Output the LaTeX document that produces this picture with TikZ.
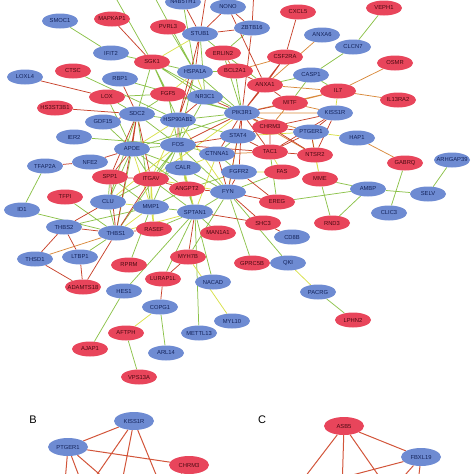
\documentclass[tikz,border=0pt]{standalone}
\usepackage{fontspec}
\setmainfont{Liberation Sans}
\usepackage{xcolor}
\usetikzlibrary{shapes.geometric,backgrounds}
\definecolor{GeneRed}{HTML}{E8455B}
\definecolor{GeneBlue}{HTML}{6E8BD2}
\definecolor{RedText}{HTML}{4A0A12}
\definecolor{BlueText}{HTML}{14235A}
\definecolor{LinkRed}{HTML}{C8432C}
\definecolor{LinkOrange}{HTML}{D98A3C}
\definecolor{LinkGreen}{HTML}{8CC24A}
\definecolor{LinkYellow}{HTML}{D8E04A}
\definecolor{LinkPanel}{HTML}{D2553A}

\begin{document}
\begin{tikzpicture}[x=1pt, y=-1pt,
  gene/.style={ellipse, minimum width=36pt, minimum height=15pt, inner xsep=-3pt, inner ysep=0pt, font=\fontsize{5.8}{6.5}\selectfont},
  upgene/.style={gene, fill=GeneRed, text=RedText},
  downgene/.style={gene, fill=GeneBlue, text=BlueText},
  biggene/.style={minimum width=40pt, minimum height=18pt},
  link/.style={line width=0.75pt},
  lred/.style={link, draw=LinkRed},
  lorange/.style={link, draw=LinkOrange},
  lgreen/.style={link, draw=LinkGreen},
  lyellow/.style={link, draw=LinkYellow},
  lpanel/.style={line width=1pt, draw=LinkPanel},
  panel/.style={font=\fontsize{11}{12}\selectfont}
]
\useasboundingbox (0,0) rectangle (474,474);
\clip (0,0) rectangle (474,474);

\node[downgene] (n4b5th1) at (183,2) {N4B5TH1};
\node[downgene] (nono) at (228,7) {NONO};
\node[upgene] (cxcl5) at (298,12) {CXCL5};
\node[upgene] (veph1) at (384,8) {VEPH1};
\node[upgene] (mapkap1) at (112,19) {MAPKAP1};
\node[downgene] (smoc1) at (60,21) {SMOC1};
\node[upgene] (pvrl3) at (168,27) {PVRL3};
\node[downgene] (stub1) at (200,34) {STUB1};
\node[downgene] (zbtb16) at (252,28) {ZBTB16};
\node[downgene] (anxa6) at (322,35) {ANXA6};
\node[downgene] (clcn7) at (353,47) {CLCN7};
\node[downgene] (ifit2) at (111,53) {IFIT2};
\node[upgene] (erlin2) at (223,53) {ERLIN2};
\node[upgene] (csf2ra) at (285,57) {CSF2RA};
\node[upgene] (sgk1) at (152,62) {SGK1};
\node[upgene] (osmr) at (395,63) {OSMR};
\node[upgene] (ctsc) at (73,71) {CTSC};
\node[downgene] (hspa1a) at (195,72) {HSPA1A};
\node[upgene] (bcl2a1) at (235,71) {BCL2A1};
\node[downgene] (casp1) at (311,75) {CASP1};
\node[downgene] (loxl4) at (25,77) {LOXL4};
\node[downgene] (rbp1) at (120,79) {RBP1};
\node[upgene] (anxa1) at (265,85) {ANXA1};
\node[upgene] (il7) at (338,91) {IL7};
\node[upgene] (fgf5) at (168,94) {FGF5};
\node[downgene] (nr3c1) at (205,97) {NR3C1};
\node[upgene] (lox) at (107,97) {LOX};
\node[upgene] (il13ra2) at (398,100) {IL13RA2};
\node[upgene] (mitf) at (290,103) {MITF};
\node[upgene] (hs3st3b1) at (55,108) {HS3ST3B1};
\node[downgene] (sdc2) at (137,114) {SDC2};
\node[downgene] (pik3r1) at (242,113) {PIK3R1};
\node[downgene] (kiss1r) at (335,113) {KISS1R};
\node[downgene] (hsp90ab1) at (178,120) {HSP90AB1};
\node[downgene] (gdf15) at (103,122) {GDF15};
\node[upgene] (chrm3) at (270,127) {CHRM3};
\node[downgene] (ptger1) at (311,132) {PTGER1};
\node[downgene] (stat4) at (238,136) {STAT4};
\node[downgene] (ier2) at (74,137) {IER2};
\node[downgene] (hap1) at (357,138) {HAP1};
\node[downgene] (fos) at (178,145) {FOS};
\node[downgene] (apoe) at (132,149) {APOE};
\node[upgene] (tac1) at (270,152) {TAC1};
\node[downgene] (ctnna1) at (217,154) {CTNNA1};
\node[upgene] (ntsr2) at (315,155) {NTSR2};
\node[downgene] (arhgap39) at (452,160) {ARHGAP39};
\node[downgene] (nfe2) at (90,162) {NFE2};
\node[upgene] (gabrq) at (405,163) {GABRQ};
\node[downgene] (tfap2a) at (45,166) {TFAP2A};
\node[downgene] (calr) at (183,168) {CALR};
\node[downgene] (fgfr2) at (239,172) {FGFR2};
\node[upgene] (fas) at (282,172) {FAS};
\node[upgene] (spp1) at (110,177) {SPP1};
\node[upgene] (itgav) at (151,179) {ITGAV};
\node[upgene] (mme) at (320,179) {MME};
\node[upgene] (angpt2) at (187,189) {ANGPT2};
\node[downgene] (ambp) at (368,189) {AMBP};
\node[downgene] (fyn) at (228,192) {FYN};
\node[downgene] (selv) at (428,194) {SELV};
\node[upgene] (tfpi) at (65,197) {TFPI};
\node[downgene] (clu) at (108,202) {CLU};
\node[upgene] (ereg) at (277,202) {EREG};
\node[downgene] (mmp1) at (151,207) {MMP1};
\node[downgene] (id1) at (22,210) {ID1};
\node[downgene] (sptan1) at (195,212) {SPTAN1};
\node[downgene] (clic3) at (389,213) {CLIC3};
\node[upgene] (shc3) at (263,223) {SHC3};
\node[upgene] (rnd3) at (332,223) {RND3};
\node[downgene] (thbs2) at (64,227) {THBS2};
\node[upgene] (rasef) at (154,229) {RASEF};
\node[downgene] (thbs1) at (116,233) {THBS1};
\node[upgene] (man1a1) at (218,233) {MAN1A1};
\node[downgene] (cd8b) at (292,237) {CD8B};
\node[downgene] (ltbp1) at (80,257) {LTBP1};
\node[upgene] (myh7b) at (188,257) {MYH7B};
\node[downgene] (thsd1) at (35,259) {THSD1};
\node[upgene] (gprc5b) at (252,263) {GPRC5B};
\node[downgene] (qki) at (288,263) {QKI};
\node[upgene] (rprm) at (129,265) {RPRM};
\node[upgene] (lurap1l) at (163,279) {LURAP1L};
\node[downgene] (nacad) at (213,282) {NACAD};
\node[upgene] (adamts18) at (83,287) {ADAMTS18};
\node[downgene] (hes1) at (124,291) {HES1};
\node[downgene] (pacrg) at (318,292) {PACRG};
\node[downgene] (copg1) at (160,307) {COPG1};
\node[upgene] (lphn2) at (353,320) {LPHN2};
\node[downgene] (myl10) at (232,321) {MYL10};
\node[upgene] (aftph) at (126,333) {AFTPH};
\node[downgene] (mettl13) at (199,333) {METTL13};
\node[upgene] (ajap1) at (90,349) {AJAP1};
\node[downgene] (arl14) at (166,353) {ARL14};
\node[upgene] (vps13a) at (139,377) {VPS13A};

\node[panel] (labelb) at (33,420) {B};
\node[downgene, biggene] (kiss1rb) at (134,421) {KISS1R};
\node[downgene, biggene] (ptger1b) at (68,447) {PTGER1};
\node[upgene, biggene] (chrm3b) at (189,465) {CHRM3};

\node[panel] (labelc) at (262,420) {C};
\node[upgene, biggene] (asb5) at (344,426) {ASB5};
\node[downgene, biggene] (fbxl19) at (421,457) {FBXL19};

\coordinate (ta) at (100,-30);
\coordinate (tb) at (140,-30);
\coordinate (tc) at (255,-30);
\coordinate (td) at (210,-30);
\coordinate (bq1) at (64,494);
\coordinate (bq2) at (85,492);
\coordinate (bq3) at (120,492);
\coordinate (bq4) at (164,494);
\coordinate (cq1) at (295,490);
\coordinate (cq2) at (342,492);
\coordinate (cq3) at (390,492);
\coordinate (cq4) at (417,492);

\begin{scope}[on background layer]
\clip (0,0) rectangle (474,474);
\draw[lgreen] (smoc1) -- (ifit2) (ifit2) -- (sgk1) (ctsc) -- (hsp90ab1) (lox) -- (sdc2)
  (lox) -- (fgf5) (rbp1) -- (pik3r1) (gdf15) -- (apoe) (ier2) -- (fos) (tfap2a) -- (id1)
  (id1) -- (thbs1) (tfpi) -- (thbs1) (ltbp1) -- (thbs1) (rprm) -- (mmp1) (hes1) -- (sptan1)
  (hes1) -- (ajap1) (aftph) -- (vps13a) (lurap1l) -- (sptan1) (myh7b) -- (fyn)
  (mettl13) -- (sptan1) (nacad) -- (sptan1) (copg1) -- (arl14) (gprc5b) -- (fyn)
  (qki) -- (fyn) (pacrg) -- (lphn2) (ereg) -- (ambp) (mme) -- (ambp) (mme) -- (rnd3)
  (ambp) -- (rnd3) (ambp) -- (selv) (gabrq) -- (clic3) (selv) -- (arhgap39)
  (clcn7) -- (casp1) (veph1) -- (clcn7) (casp1) -- (anxa1) (casp1) -- (mitf) (casp1) -- (il7)
  (apoe) -- (fos) (apoe) -- (itgav) (apoe) -- (clu) (apoe) -- (thbs1) (apoe) -- (calr)
  (apoe) -- (angpt2) (apoe) -- (pik3r1) (apoe) -- (lox) (fos) -- (sdc2) (fos) -- (ctnna1)
  (fos) -- (nr3c1) (fos) -- (itgav) (fos) -- (fyn) (fos) -- (mmp1) (fos) -- (thbs1)
  (fos) -- (angpt2) (fos) -- (hspa1a) (fos) -- (fgf5) (pik3r1) -- (hspa1a)
  (pik3r1) -- (hsp90ab1) (pik3r1) -- (bcl2a1) (pik3r1) -- (erlin2) (pik3r1) -- (sgk1)
  (pik3r1) -- (fgf5) (hsp90ab1) -- (sdc2) (hsp90ab1) -- (calr) (hsp90ab1) -- (stat4)
  (hsp90ab1) -- (sgk1) (hspa1a) -- (bcl2a1) (hspa1a) -- (sgk1) (hspa1a) -- (pvrl3)
  (hspa1a) -- (n4b5th1) (stub1) -- (pvrl3) (stub1) -- (erlin2) (stub1) -- (nr3c1)
  (sgk1) -- (fgf5) (sgk1) -- (nr3c1) (sgk1) -- (sdc2) (sdc2) -- (clu) (sdc2) -- (mmp1)
  (sdc2) -- (fgf5) (itgav) -- (calr) (itgav) -- (clu) (itgav) -- (sptan1) (spp1) -- (clu)
  (spp1) -- (mmp1) (clu) -- (thbs1) (mmp1) -- (sptan1) (mmp1) -- (angpt2) (mmp1) -- (thbs2)
  (calr) -- (sptan1) (calr) -- (fyn) (angpt2) -- (sptan1) (angpt2) -- (fgfr2)
  (fyn) -- (sptan1) (sptan1) -- (man1a1) (sptan1) -- (rasef) (ctnna1) -- (stat4)
  (ctnna1) -- (fgfr2) (tac1) -- (ereg) (anxa1) -- (erlin2) (fas) -- (fyn)
  (zbtb16) -- (erlin2) (ta) -- (sgk1) (tb) -- (hspa1a);
\draw[lyellow] (aftph) -- (copg1) (myl10) -- (myh7b) (qki) -- (pacrg) (apoe) -- (hsp90ab1)
  (apoe) -- (mmp1) (fos) -- (calr) (fos) -- (sptan1) (fos) -- (clu) (hsp90ab1) -- (fyn)
  (hsp90ab1) -- (itgav) (hspa1a) -- (nr3c1) (hspa1a) -- (fgf5) (stub1) -- (sgk1)
  (itgav) -- (mmp1) (itgav) -- (fyn) (itgav) -- (rasef) (clu) -- (mmp1) (mmp1) -- (thbs1)
  (mmp1) -- (rasef) (thbs1) -- (sptan1) (calr) -- (angpt2) (calr) -- (ctnna1)
  (sptan1) -- (ctnna1) (fyn) -- (stat4) (stat4) -- (ptger1) (tac1) -- (fas) (fgfr2) -- (fas)
  (ptger1) -- (hap1) (ptger1) -- (mme) (ntsr2) -- (mme) (kiss1r) -- (il7) (pik3r1) -- (itgav);
\draw[lorange] (thsd1) -- (thbs1) (ptger1) -- (pik3r1) (kiss1r) -- (pik3r1)
  (ntsr2) -- (pik3r1) (il7) -- (pik3r1) (ctnna1) -- (tac1) (chrm3) -- (mitf)
  (kiss1r) -- (mitf) (anxa6) -- (anxa1) (anxa1) -- (il7) (mitf) -- (il7) (csf2ra) -- (bcl2a1)
  (osmr) -- (il7) (il13ra2) -- (il7) (hap1) -- (gabrq) (erlin2) -- (bcl2a1);
\draw[lred] (mapkap1) -- (sgk1) (loxl4) -- (lox) (rbp1) -- (sdc2) (hs3st3b1) -- (sdc2)
  (gdf15) -- (sdc2) (tfap2a) -- (nfe2) (nfe2) -- (apoe) (thbs2) -- (thbs1) (thbs2) -- (thsd1)
  (thsd1) -- (adamts18) (ltbp1) -- (adamts18) (adamts18) -- (thbs1) (ltbp1) -- (thbs2)
  (lurap1l) -- (copg1) (lurap1l) -- (myh7b) (myh7b) -- (sptan1) (shc3) -- (cd8b)
  (shc3) -- (fyn) (sptan1) -- (shc3) (ereg) -- (fyn) (fgfr2) -- (ereg) (fgfr2) -- (fyn)
  (ctnna1) -- (fyn) (angpt2) -- (fyn) (apoe) -- (sdc2) (apoe) -- (spp1) (fos) -- (hsp90ab1)
  (fos) -- (stat4) (fos) -- (pik3r1) (fos) -- (tac1) (pik3r1) -- (nr3c1) (pik3r1) -- (anxa1)
  (pik3r1) -- (mitf) (pik3r1) -- (chrm3) (pik3r1) -- (stat4) (pik3r1) -- (fgfr2)
  (pik3r1) -- (fyn) (pik3r1) -- (ctnna1) (pik3r1) -- (tac1) (pik3r1) -- (zbtb16)
  (pik3r1) -- (csf2ra) (hsp90ab1) -- (nr3c1) (hsp90ab1) -- (hspa1a) (hsp90ab1) -- (stub1)
  (hspa1a) -- (stub1) (stub1) -- (nono) (stub1) -- (zbtb16) (stub1) -- (n4b5th1)
  (nono) -- (zbtb16) (nono) -- (anxa1) (sdc2) -- (thbs1) (sdc2) -- (itgav) (sdc2) -- (spp1)
  (itgav) -- (spp1) (itgav) -- (thbs1) (itgav) -- (angpt2) (spp1) -- (thbs1) (clu) -- (thbs2)
  (thbs1) -- (rasef) (stat4) -- (tac1) (stat4) -- (chrm3) (tac1) -- (chrm3) (tac1) -- (ntsr2)
  (tac1) -- (ptger1) (tac1) -- (kiss1r) (chrm3) -- (ptger1) (chrm3) -- (ntsr2)
  (chrm3) -- (kiss1r) (ptger1) -- (kiss1r) (ptger1) -- (ntsr2) (ntsr2) -- (kiss1r)
  (anxa1) -- (mitf) (anxa1) -- (csf2ra) (anxa1) -- (bcl2a1) (csf2ra) -- (cxcl5)
  (tc) -- (zbtb16) (td) -- (stub1);
\draw[lpanel] (kiss1rb) -- (ptger1b) (ptger1b) -- (chrm3b) (kiss1rb) -- (bq2) (kiss1rb) -- (bq3)
  (kiss1rb) -- (bq4) (ptger1b) -- (bq1) (ptger1b) -- (bq2) (ptger1b) -- (bq3) (chrm3b) -- (bq4);
\draw[lpanel] (asb5) -- (fbxl19) (asb5) -- (cq1) (asb5) -- (cq2) (asb5) -- (cq3)
  (fbxl19) -- (cq1) (fbxl19) -- (cq3) (fbxl19) -- (cq4);
\end{scope}
\end{tikzpicture}
\end{document}
